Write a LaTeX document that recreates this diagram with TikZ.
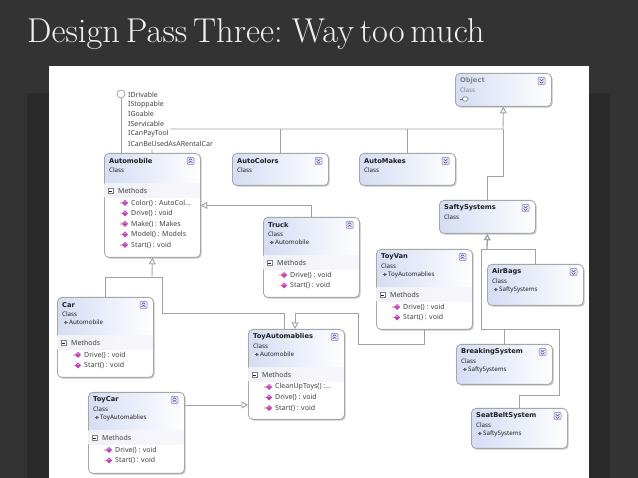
\documentclass[tikz,border=0pt]{standalone}
\usepackage{fontspec}
\usepackage{tikz}
\usetikzlibrary{arrows.meta,shadows}
\newfontfamily\diagramFont{Noto Sans}
\newfontfamily\headFont{DejaVu Sans}
\definecolor{slideDark}{HTML}{333333}
\definecolor{slideBand}{HTML}{2A2A2A}
\definecolor{boxLine}{HTML}{A6A6A6}
\definecolor{boxBlue}{HTML}{D4DDF4}
\definecolor{boxInk}{HTML}{1E1E1E}
\definecolor{linkGray}{HTML}{A2A2A2}
\definecolor{bandTint}{HTML}{F0F0F8}
\definecolor{iconMagenta}{HTML}{C43CC4}
\definecolor{iconPeach}{HTML}{F0C8A0}
\newcommand{\cutOff}{...}
\newcommand{\classBox}[8][boxInk]{%
  \node[classbox={#6}, minimum height=#5pt] (#2) at (#3,#4) {};
  \node[boxtitle, text=#1] (#2Title) at (#3+5,#4+8) {#7};
  \node[boxsub, text=#1] (#2Kind) at (#3+5,#4+17) {Class};
  \pic at (#3+86.5,#4+8) {#8};
}
\newcommand{\baseLine}[4]{%
  \pic at (#2+9,#3+25.5) {basemark};
  \node[boxsub] (#1Base) at (#2+12,#3+25.5) {#4};
}
\newcommand{\methodList}[5]{%
  \fill[left color=bandTint, right color=bandTint!50] (#2+.6,#3+#4-7) rectangle (#2+95.4,#3+#4+7);
  \pic at (#2+6.5,#3+#4) {collapsebox};
  \node[boxmember] (#1Methods) at (#2+14,#3+#4) {Methods};
  \foreach \methodText [count=\rowIndex] in {#5} {
    \pgfmathsetmacro{\rowY}{#3+#4+12+(\rowIndex-1)*10.5}
    \pic at (#2+21,\rowY) {methodicon};
    \node[boxmember] (#1Method\rowIndex) at (#2+27,\rowY) {\methodText};
  }
}

\begin{document}
\begin{tikzpicture}[x=1pt, y=-1pt]
  \tikzset{
    classbox/.style={draw=boxLine, line width=.8pt, fill=white, rounded corners=4.5pt, anchor=north west,
      minimum width=96pt, inner sep=0pt,
      drop shadow={shadow xshift=1.3pt, shadow yshift=-1.3pt, fill=black!50, opacity=.45},
      path picture={\fill[left color=boxBlue, right color=white] (path picture bounding box.north west) rectangle ([yshift=-#1pt]path picture bounding box.north east);}},
    boxtitle/.style={anchor=west, inner sep=0pt, font=\headFont\bfseries\fontsize{6.7}{8}\selectfont},
    boxsub/.style={anchor=west, inner sep=0pt, text=boxInk, font=\diagramFont\fontsize{6.2}{7}\selectfont},
    boxmember/.style={anchor=west, inner sep=0pt, text=boxInk!85, font=\diagramFont\fontsize{7}{8}\selectfont},
    ifacelabel/.style={anchor=west, fill=white, inner xsep=1pt, inner ysep=0pt, minimum height=10.6pt, text=boxInk!85, font=\diagramFont\fontsize{7}{8}\selectfont},
    lollipop/.style={circle, draw=linkGray, line width=.8pt, fill=white, minimum size=8pt, inner sep=0pt},
    link/.style={draw=linkGray, line width=.9pt},
    inherit/.style={link, -{Triangle[open, fill=white, length=6.5pt, width=7pt]}},
    toggleup/.pic={
      \draw[draw=boxLine!70!blue, fill=boxBlue!50, rounded corners=1pt, line width=.5pt] (-3.5,-3.5) rectangle (3.5,3.5);
      \draw[draw=blue!35!gray, line width=.6pt] (-2,-.5) -- (0,-2.3) -- (2,-.5) (-2,2) -- (0,.2) -- (2,2);
    },
    toggledown/.pic={
      \draw[draw=boxLine!70!blue, fill=boxBlue!50, rounded corners=1pt, line width=.5pt] (-3.5,-3.5) rectangle (3.5,3.5);
      \draw[draw=blue!35!gray, line width=.6pt] (-2,-2) -- (0,-.2) -- (2,-2) (-2,.5) -- (0,2.3) -- (2,.5);
    },
    collapsebox/.pic={
      \draw[draw=gray, fill=white, line width=.5pt] (-2.5,-2.5) rectangle (2.5,2.5);
      \draw[draw=boxInk, line width=.5pt] (-1.4,0) -- (1.4,0);
    },
    methodicon/.pic={
      \fill[iconPeach] (-5,-.8) rectangle (-1,.8);
      \fill[iconMagenta] (-3,0) -- (0,-3) -- (3,0) -- (0,3) -- cycle;
      \fill[white, opacity=.55] (-1.2,-.6) -- (0,-1.8) -- (1.2,-.6) -- cycle;
    },
    basemark/.pic={
      \draw[draw=boxInk!70, line width=.5pt, -{Stealth[length=2.2pt, width=3pt]}] (-2.5,0) -- (1.8,0);
      \draw[draw=boxInk!70, line width=.5pt] (-1,-1.5) -- (-1,1.5);
    },
    pillmark/.pic={
      \draw[draw=boxInk!60, fill=white, rounded corners=1.5pt, line width=.6pt] (-2.5,-2) rectangle (3,2);
      \fill[boxInk!60] (-5,-.4) rectangle (-2.5,.4);
    }
  }
  \fill[slideDark] (0,0) rectangle (638,478);
  \fill[slideBand] (27,93) rectangle (610,478);
  \node[anchor=base west, inner sep=0pt, text=white!94!black, font=\fontsize{34.5}{40}\selectfont] (slideTitle) at (27,43) {\spaceskip=.17em Design Pass Three: Way too much};
  \fill[white] (49,66) rectangle (589,478);

  \classBox[boxInk!55]{object}{455}{73}{33}{33}{Object}{toggledown}
  \pic at (465,99) {pillmark};
  \classBox{automobile}{104}{153}{104}{31}{Automobile}{toggleup}
  \methodList{automobile}{104}{153}{38}{Color() : AutoCol\cutOff, Drive() : void, Make() : Makes, Model() : Models, Start() : void}
  \classBox{autoColors}{232}{153}{32}{32}{AutoColors}{toggledown}
  \classBox{autoMakes}{359}{153}{32}{32}{AutoMakes}{toggledown}
  \classBox{saftySystems}{439}{200}{33}{33}{SaftySystems}{toggledown}
  \classBox{truck}{263}{217}{80}{39}{Truck}{toggleup}
  \baseLine{truck}{263}{217}{Automobile}
  \methodList{truck}{263}{217}{46}{Drive() : void, Start() : void}
  \classBox{toyVan}{376}{249}{80}{39}{ToyVan}{toggleup}
  \baseLine{toyVan}{376}{249}{ToyAutomablies}
  \methodList{toyVan}{376}{249}{46}{Drive() : void, Start() : void}
  \classBox{airBags}{487}{264}{41}{41}{AirBags}{toggledown}
  \baseLine{airBags}{487}{264}{SaftySystems}
  \classBox{car}{57}{297}{80}{39}{Car}{toggleup}
  \baseLine{car}{57}{297}{Automobile}
  \methodList{car}{57}{297}{46}{Drive() : void, Start() : void}
  \classBox{toyAutomablies}{248}{329}{90}{39}{ToyAutomablies}{toggleup}
  \baseLine{toyAutomablies}{248}{329}{Automobile}
  \methodList{toyAutomablies}{248}{329}{46}{CleanUpToys() :\cutOff, Drive() : void, Start() : void}
  \classBox{breakingSystem}{456}{344}{40}{40}{BreakingSystem}{toggledown}
  \baseLine{breakingSystem}{456}{344}{SaftySystems}
  \classBox{toyCar}{88}{392}{81}{39}{ToyCar}{toggleup}
  \baseLine{toyCar}{88}{392}{ToyAutomablies}
  \methodList{toyCar}{88}{392}{46}{Drive() : void, Start() : void}
  \classBox{seatBeltSystem}{471}{408}{40}{40}{SeatBeltSystem}{toggledown}
  \baseLine{seatBeltSystem}{471}{408}{SaftySystems}

  \coordinate (automobileTop) at (152,153);
  \coordinate (objectBus) at (503,129);
  \coordinate (saftyJog) at (503,176);
  \coordinate (carFork) at (152,277);
  \coordinate (toyFork) at (162,313);
  \coordinate (toyAutoLeft) at (284,329);
  \coordinate (toyAutoRight) at (295,329);
  \coordinate (vanLow) at (358,344);
  \coordinate (vanHigh) at (358,313);
  \coordinate (toyCarOut) at (184,405);
  \coordinate (saftyBus) at (487,249);
  \coordinate (bagLeft) at (481,249);
  \coordinate (bagBus) at (559,329);
  \coordinate (beltJog) at (559,395);

  \node[lollipop] (ifaceDot) at (121,94) {};
  \draw[link] (ifaceDot.south) -- (ifaceDot.south |- automobile.north);
  \draw[inherit] (automobileTop) |- (objectBus) -- (object.south);
  \draw[link] (autoColors.north) -- (autoColors.north |- objectBus);
  \draw[link] (autoMakes.north) -- (autoMakes.north |- objectBus);
  \draw[link] (objectBus) -- (saftyJog) -| (saftySystems.north);
  \draw[inherit] (truck.north) |- (automobile.east);
  \draw[inherit] (carFork) -- (automobile.south);
  \draw[link] (carFork) -| (car.north);
  \draw[link] (carFork) -| (toyFork) -| (toyAutoLeft);
  \draw[inherit] (toyVan.south) |- (vanLow) -- (vanHigh) -| (toyAutoRight);
  \draw[inherit] (toyCarOut) -- (toyCarOut -| toyAutomablies.west);
  \draw[inherit, line width=1.3pt] (saftyBus) -- (saftySystems.south);
  \draw[link] (bagLeft) -| (airBags.north);
  \draw[link] (bagLeft) |- (bagBus) -- (beltJog) -| (seatBeltSystem.north);
  \draw[link] (breakingSystem.north) -- (breakingSystem.north |- bagBus);

  \foreach \ifaceName [count=\ifaceIndex] in {IDrivable, IStoppable, IGoable, IServicable, ICanPayTool, ICanBeUsedAsARentalCar} {
    \pgfmathsetmacro{\ifaceY}{94.6+(\ifaceIndex-1)*9.8}
    \node[ifacelabel] (iface\ifaceIndex) at (127,\ifaceY) {\ifaceName};
  }
\end{tikzpicture}
\end{document}
